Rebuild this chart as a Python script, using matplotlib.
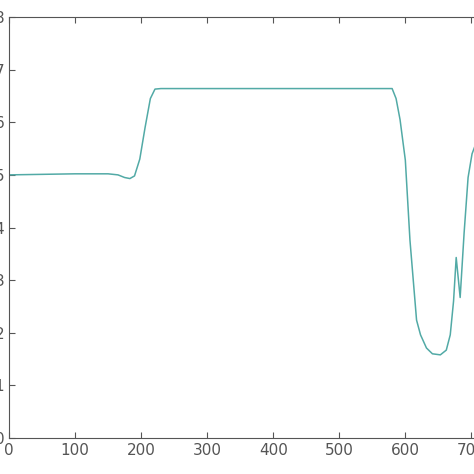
import matplotlib
matplotlib.use("Agg")
import matplotlib.pyplot as plt

xs = [0, 50, 100, 150, 165, 175, 183, 190, 198, 206, 214, 221, 230, 400, 580, 586, 592, 600, 607, 617, 623, 632, 641, 653, 662, 668, 673, 677, 683, 689, 695, 701, 710]
ys = [5.0, 5.01, 5.02, 5.02, 5.0, 4.95, 4.93, 4.98, 5.3, 5.9, 6.45, 6.63, 6.64, 6.64, 6.64, 6.45, 6.05, 5.28, 3.76, 2.24, 1.96, 1.71, 1.6, 1.58, 1.67, 1.96, 2.6, 3.43, 2.67, 3.9, 4.95, 5.4, 5.7]

fig = plt.figure(figsize=(4.74, 4.74), dpi=100)
ax = fig.add_axes([9/474, 36/474, 720/474, 421/474])
ax.plot(xs, ys, color="#52aaa6", lw=1.1)
ax.set_xlim(0, 1090)
ax.set_ylim(0, 8)
ax.set_xticks(range(0, 800, 100))
ax.set_yticks(range(0, 9))
ax.tick_params(direction="in", length=4, colors="#555555", labelsize=11, top=True, right=True)
for s in ax.spines.values():
    s.set_color("#555555")
fig.savefig("out.png", dpi=100)
